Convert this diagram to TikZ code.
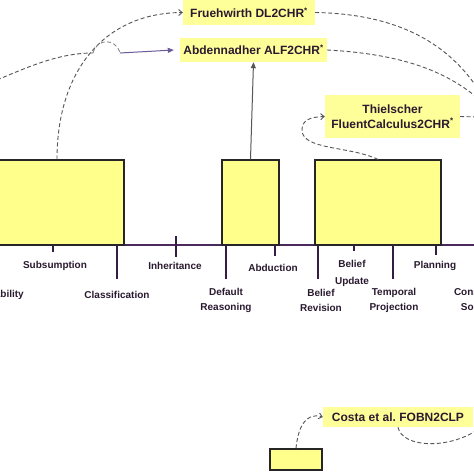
\documentclass[tikz,border=0pt]{standalone}
\usepackage{fontspec}
\setmainfont{Liberation Sans}
\usetikzlibrary{arrows.meta}
\definecolor{boxyellow}{HTML}{FFFF8C}
\definecolor{hlyellow}{HTML}{FFFF99}
\definecolor{axispurple}{HTML}{4A2A5C}
\definecolor{textdark}{HTML}{2A1A30}
\definecolor{dashgray}{HTML}{555555}
\definecolor{arrowblue}{HTML}{6A5A9A}
\tikzset{
  ybox/.style={draw=black!85, line width=1.1pt, fill=boxyellow, inner sep=0pt},
  hl/.style={fill=hlyellow, inner sep=0pt, text=textdark, font=\bfseries\fontsize{12}{15}\selectfont, align=center},
  lbl/.style={text=textdark, font=\bfseries\fontsize{10}{15}\selectfont, align=center, inner sep=0pt},
  tick/.style={draw=axispurple!70!black, line width=1.4pt},
  dashc/.style={draw=dashgray, line width=0.9pt, dash pattern=on 4pt off 2.5pt},
  dasharr/.style={dashc, -{Straight Barb[length=3.5pt,width=6pt]}},
  solidarr/.style={draw=dashgray, line width=1pt, -{Triangle[length=6pt,width=5pt]}}
}
\begin{document}
\begin{tikzpicture}[x=1pt,y=-1pt]
\useasboundingbox (0,0) rectangle (474,474);
\clip (0,0) rectangle (474,474);
\fill[white] (0,0) rectangle (474,474);

% axis
\draw[axispurple, line width=2.2pt] (-5,245) -- (480,245);

% yellow boxes
\node[ybox, minimum width=134, minimum height=85] (b1) at (57,202.5) {};
\node[ybox, minimum width=57, minimum height=85] (b2) at (250.5,202.5) {};
\node[ybox, minimum width=126, minimum height=85] (b3) at (378,202.5) {};
\node[ybox, minimum width=52, minimum height=21] (b4) at (296,459.5) {};

% ticks
\draw[tick] (53,245) -- (53,252);
\draw[tick] (117,245) -- (117,279);
\draw[tick] (176,236) -- (176,257);
\draw[tick] (226,245) -- (226,279);
\draw[tick] (275,245) -- (275,256);
\draw[tick, line width=2pt] (318,245) -- (318,279);
\draw[tick] (354,245) -- (354,251);
\draw[tick] (393,245) -- (393,279);
\draw[tick] (436,245) -- (436,255);

% labels
\node[lbl, anchor=east] (sat) at (24,295) {Satisfiability};
\node[lbl] (subs) at (55,266) {Subsumption};
\node[lbl] (clas) at (117,295) {Classification};
\node[lbl] (inh) at (175,266) {Inheritance};
\node[lbl] (defr) at (226,300.5) {Default\\Reasoning};
\node[lbl] (abd) at (273,268) {Abduction};
\node[lbl] (brev) at (321,300.5) {Belief\\Revision};
\node[lbl, font=\bfseries\fontsize{10}{17}\selectfont] (bupd) at (352,273.5) {Belief\\Update};
\node[lbl] (tproj) at (394,300.5) {Temporal\\Projection};
\node[lbl] (plan) at (435,266) {Planning};
\node[lbl] (cons) at (479,300.5) {Constraint\\Solving};

% highlighted system nodes
\node[hl, minimum width=132, minimum height=25] (fr) at (249,12.5) {Fruehwirth DL2CHR\textsuperscript{*}};
\node[hl, minimum width=147, minimum height=24] (ab) at (253.5,50) {Abdennadher ALF2CHR\textsuperscript{*}};
\node[hl, minimum width=135, minimum height=43] (th) at (392.5,116.5) {Thielscher\\FluentCalculus2CHR\textsuperscript{*}};
\node[hl, minimum width=150, minimum height=20] (co) at (398,417) {Costa et al.\ FOBN2CLP};

% free ends
\coordinate (lft) at (-3,80);
\coordinate (hopA) at (93,53);
\coordinate (hopB) at (120,53);
\coordinate (r1) at (480,92);
\coordinate (r2) at (480,100);
\coordinate (r3) at (478,117);
\coordinate (r4) at (480,428);

% connectors
\draw[dasharr] (b1.north) .. controls (57,70) and (105,13) .. (fr.west);
\draw[dashc] (lft) .. controls (30,66) and (60,53) .. (hopA);
\draw[dashc, draw=dashgray!70] (hopA) .. controls (97,38) and (116,38) .. (hopB);
\draw[solidarr, draw=arrowblue] (hopB) -- ([xshift=-6pt]ab.west);
\draw[solidarr] (b2.north) -- (ab.south);
\draw[dashc] (fr.east) .. controls (400,14) and (450,45) .. (r1);
\draw[dashc] (ab.east) .. controls (400,54) and (445,70) .. (r2);
\draw[dashc] (th.east) -- (r3);
\draw[dasharr] (b3.north) .. controls (350,146) and (302,150) .. (302,130) .. controls (302,120) and (310,117) .. (th.west);
\draw[dasharr] (b4.north) .. controls (298,428) and (305,412) .. (co.west);
\draw[dashc] (co.south) .. controls (402,448) and (450,450) .. (r4);
\end{tikzpicture}
\end{document}
